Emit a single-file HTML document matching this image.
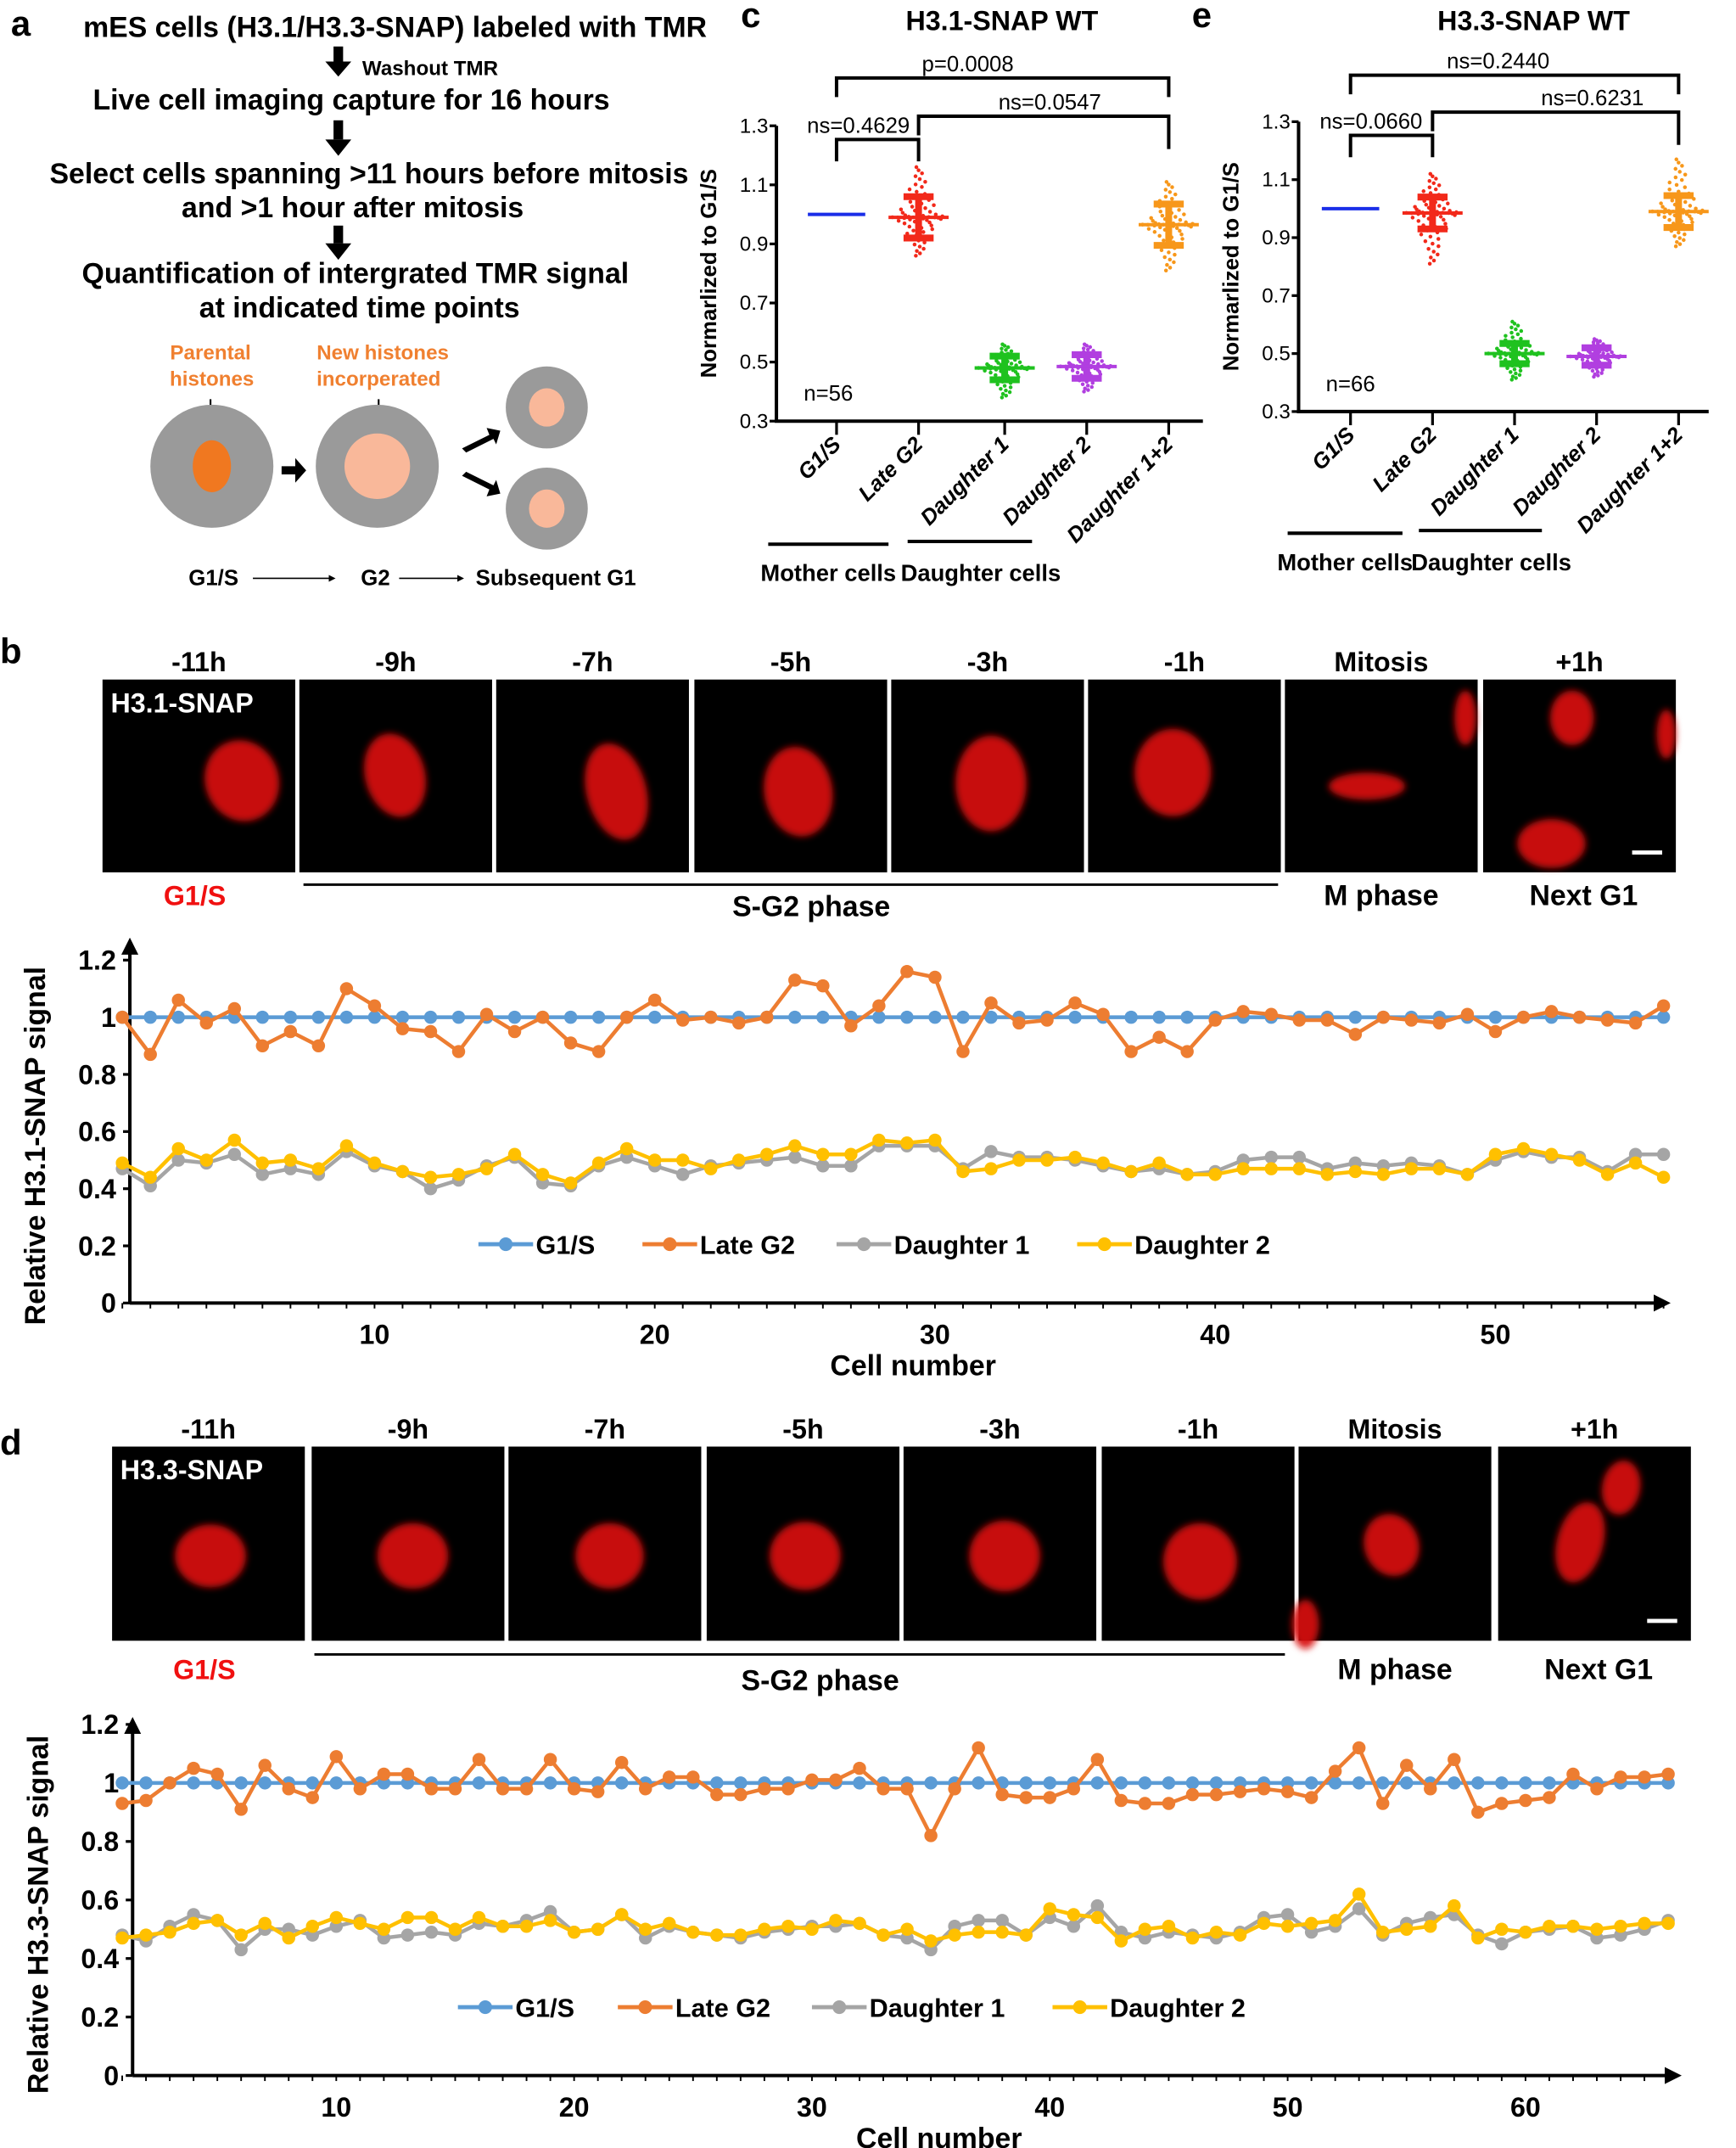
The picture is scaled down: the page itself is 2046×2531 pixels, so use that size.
<!DOCTYPE html>
<html><head><meta charset="utf-8"><style>
html,body{margin:0;padding:0;background:#fff}
svg{display:block;font-family:"Liberation Sans",Arial,sans-serif}
.b{font-weight:bold}
</style></head><body>
<svg id="fig" width="2046" height="2531" viewBox="0 0 1270 1571" preserveAspectRatio="none" xmlns="http://www.w3.org/2000/svg">
<defs>
<filter id="blur" x="-50%" y="-50%" width="200%" height="200%"><feGaussianBlur stdDeviation="2.5"/></filter>
<marker id="arr" viewBox="0 0 10 10" refX="5" refY="5" markerWidth="5" markerHeight="5" orient="auto"><path d="M0,0L10,5L0,10z" fill="#000"/></marker>
</defs>
<g id="panelA">
<text x="8" y="26" font-size="26" class="b">a</text>
<text x="289" y="27" font-size="21" text-anchor="middle" class="b">mES cells (H3.1/H3.3-SNAP) labeled with TMR</text>
<text x="265" y="55" font-size="15" class="b">Washout TMR</text>
<text x="257" y="80" font-size="21" text-anchor="middle" class="b">Live cell imaging capture for 16 hours</text>
<text x="270" y="134" font-size="21" text-anchor="middle" class="b">Select cells spanning &gt;11 hours before mitosis</text>
<text x="258" y="159" font-size="21" text-anchor="middle" class="b">and &gt;1 hour after mitosis</text>
<text x="260" y="207" font-size="21" text-anchor="middle" class="b">Quantification of intergrated TMR signal</text>
<text x="263" y="232" font-size="21" text-anchor="middle" class="b">at indicated time points</text>
<g fill="#000">
<rect x="244" y="34" width="7" height="11"/><path d="M238,45h19l-9.5,11z"/>
<rect x="244" y="88" width="7" height="14"/><path d="M238,102h19l-9.5,12z"/>
<rect x="244" y="165" width="7" height="13"/><path d="M238,178h19l-9.5,12z"/>
</g>
<text x="154" y="263" font-size="15" fill="#f08030" text-anchor="middle" class="b">Parental</text>
<text x="155" y="282" font-size="15" fill="#f08030" text-anchor="middle" class="b">histones</text>
<text x="280" y="263" font-size="15" fill="#f08030" text-anchor="middle" class="b">New histones</text>
<text x="277" y="282" font-size="15" fill="#f08030" text-anchor="middle" class="b">incorperated</text>
<path d="M154,292v16M277,292v16" stroke="#000" stroke-width="1.3"/>
<path d="M150,304l4,6l4,-6M273,304l4,6l4,-6" stroke="#000" fill="none" stroke-width="1.3"/>
<circle cx="155" cy="341" r="45" fill="#9a9a9a"/><ellipse cx="155" cy="341" rx="14" ry="19" fill="#f07820"/>
<circle cx="276" cy="341" r="45" fill="#9a9a9a"/><ellipse cx="276" cy="341" rx="24" ry="24" fill="#f9b89a"/>
<circle cx="400" cy="298" r="30" fill="#9a9a9a"/><ellipse cx="400" cy="298" rx="13" ry="14" fill="#f9b89a"/>
<circle cx="400" cy="372" r="30" fill="#9a9a9a"/><ellipse cx="400" cy="372" rx="13" ry="14" fill="#f9b89a"/>
<path d="M206,341h10v-6l8,9l-8,9v-6h-10z" fill="#000"/>
<path d="M338,328l20,-10l-2,-5l10,2l-3,10l-2,-4l-20,10z" fill="#000"/>
<path d="M338,348l20,10l-2,5l10,-2l-3,-10l-2,4l-20,-10z" fill="#000"/>
<text x="138" y="428" font-size="16" class="b">G1/S</text>
<path d="M185,423h58" stroke="#000" marker-end="url(#arr)"/>
<text x="264" y="428" font-size="16" class="b">G2</text>
<path d="M292,423h45" stroke="#000" marker-end="url(#arr)"/>
<text x="348" y="428" font-size="16" class="b">Subsequent G1</text>
</g>
<g id="panelC"></g>
<g id="panelE"></g>
<g id="imgB"></g>
<g id="imgD"></g>
<g id="chartB"></g>
<g id="chartD"></g>
</svg>
<script>
// ---------- data ----------
const scatterCats = ["G1/S","Late G2","Daughter 1","Daughter 2","Daughter 1+2"];
const cMeans = [1.0, 0.99, 0.48, 0.485, 0.965];
const cSD = [0, 0.07, 0.04, 0.04, 0.07];
const cMin = [1.0, 0.86, 0.38, 0.40, 0.81];
const cMax = [1.0, 1.16, 0.56, 0.56, 1.11];
const eMeans = [1.0, 0.985, 0.50, 0.49, 0.99];
const eSD = [0, 0.055, 0.035, 0.03, 0.055];
const eMin = [1.0, 0.81, 0.41, 0.42, 0.87];
const eMax = [1.0, 1.12, 0.61, 0.55, 1.17];
const scatterTicks = [0.3,0.5,0.7,0.9,1.1,1.3];

const bG1S = [1,1,1,1,1,1,1,1,1,1,1,1,1,1,1,1,1,1,1,1,1,1,1,1,1,1,1,1,1,1,1,1,1,1,1,1,1,1,1,1,1,1,1,1,1,1,1,1,1,1,1,1,1,1,1,1];
const bLateG2 = [1.0,0.87,1.06,0.98,1.03,0.90,0.95,0.90,1.10,1.04,0.96,0.95,0.88,1.01,0.95,1.00,0.91,0.88,1.00,1.06,0.99,1.00,0.98,1.00,1.13,1.11,0.97,1.04,1.16,1.14,0.88,1.05,0.98,0.99,1.05,1.01,0.88,0.93,0.88,0.99,1.02,1.01,0.99,0.99,0.94,1.00,0.99,0.98,1.01,0.95,1.00,1.02,1.00,0.99,0.98,1.04];
const bD1 = [0.47,0.41,0.50,0.49,0.52,0.45,0.47,0.45,0.53,0.48,0.46,0.40,0.43,0.48,0.51,0.42,0.41,0.48,0.51,0.48,0.45,0.48,0.49,0.50,0.51,0.48,0.48,0.55,0.55,0.55,0.47,0.53,0.51,0.51,0.50,0.48,0.46,0.47,0.45,0.46,0.50,0.51,0.51,0.47,0.49,0.48,0.49,0.48,0.45,0.50,0.53,0.51,0.51,0.46,0.52,0.52];
const bD2 = [0.49,0.44,0.54,0.50,0.57,0.49,0.50,0.47,0.55,0.49,0.46,0.44,0.45,0.47,0.52,0.45,0.42,0.49,0.54,0.50,0.50,0.47,0.50,0.52,0.55,0.52,0.52,0.57,0.56,0.57,0.46,0.47,0.50,0.50,0.51,0.49,0.46,0.49,0.45,0.45,0.47,0.47,0.47,0.45,0.46,0.45,0.47,0.47,0.45,0.52,0.54,0.52,0.50,0.45,0.49,0.44];
const dG1S = new Array(66).fill(1);
const dLateG2 = [0.93,0.94,1.00,1.05,1.03,0.91,1.06,0.98,0.95,1.09,0.98,1.03,1.03,0.98,0.98,1.08,0.98,0.98,1.08,0.98,0.97,1.07,0.98,1.02,1.02,0.96,0.96,0.98,0.98,1.01,1.01,1.05,0.98,0.98,0.82,0.98,1.12,0.96,0.95,0.95,0.98,1.08,0.94,0.93,0.93,0.96,0.96,0.97,0.98,0.97,0.95,1.04,1.12,0.93,1.06,0.98,1.08,0.90,0.93,0.94,0.95,1.03,0.98,1.02,1.02,1.03];
const dD1 = [0.48,0.46,0.51,0.55,0.53,0.43,0.50,0.50,0.48,0.51,0.53,0.47,0.48,0.49,0.48,0.52,0.51,0.53,0.56,0.49,0.50,0.55,0.47,0.51,0.49,0.48,0.47,0.49,0.50,0.51,0.51,0.52,0.48,0.47,0.43,0.51,0.53,0.53,0.48,0.54,0.51,0.58,0.49,0.47,0.49,0.48,0.47,0.49,0.54,0.55,0.49,0.51,0.57,0.48,0.52,0.54,0.55,0.48,0.45,0.49,0.50,0.51,0.47,0.48,0.50,0.53];
const dD2 = [0.47,0.48,0.49,0.52,0.53,0.48,0.52,0.47,0.51,0.54,0.52,0.50,0.54,0.54,0.50,0.54,0.51,0.51,0.53,0.49,0.50,0.55,0.50,0.52,0.49,0.48,0.48,0.50,0.51,0.50,0.53,0.52,0.48,0.50,0.46,0.48,0.49,0.49,0.48,0.57,0.55,0.54,0.46,0.50,0.51,0.47,0.49,0.48,0.52,0.51,0.52,0.53,0.62,0.49,0.50,0.51,0.58,0.47,0.50,0.49,0.51,0.51,0.50,0.51,0.52,0.52];
const lineTicks = [0,0.2,0.4,0.6,0.8,1,1.2];

const NS="http://www.w3.org/2000/svg";
function mk(parent,tag,attrs,txt){const e=document.createElementNS(NS,tag);for(const k in attrs)e.setAttribute(k,attrs[k]);if(txt!==undefined)e.textContent=txt;parent.appendChild(e);return e;}

// ---------- scatter panels ----------
const scColors=["#1a2ee8","#f2291a","#1fc21f","#b13fe0","#f7971a"];
function scatter(gid,o,means,sd,mn,mx,letter,title,pvals,nlab){
  const g=document.getElementById(gid);
  const y=v=>o.y0-(v-0.3)/1.0*(o.y0-o.y1);
  const x=i=>o.xs[i];
  let t;
  t=mk(g,'text',{x:o.lx,y:o.ty-2,'font-size':26,'font-weight':'bold'},letter);
  
  t=mk(g,'text',{x:o.tx,y:o.ty,'font-size':20,'font-weight':'bold','text-anchor':'middle'},title);
  
  mk(g,'path',{d:`M${o.ax},${y(1.3)}V${o.y0}H${o.xend}`,stroke:'#000','stroke-width':2.5,fill:'none'});
  scatterTicks.forEach(v=>{
    mk(g,'path',{d:`M${o.ax-5},${y(v)}H${o.ax}`,stroke:'#000','stroke-width':2});
    t=mk(g,'text',{x:o.ax-6,y:y(v)+5,'font-size':15,'text-anchor':'end'},v.toFixed(1));
    
  });
  t=mk(g,'text',{x:0,y:0,'font-size':16,'font-weight':'bold','text-anchor':'middle',transform:`translate(${o.ax-44},${y(0.8)}) rotate(-90)`},'Normarlized to G1/S');
  
  scatterCats.forEach((c,i)=>{
    mk(g,'path',{d:`M${x(i)},${o.y0}v10`,stroke:'#000','stroke-width':2});
    t=mk(g,'text',{x:0,y:0,'font-size':16,'font-weight':'bold','font-style':'italic','text-anchor':'end',transform:`translate(${x(i)+4},${o.y0+18}) rotate(-45)`},c);
    
    const col=scColors[i];
    const grp=mk(g,'g',{});
    
    
    if(sd[i]===0){mk(grp,'path',{d:`M${x(i)-21},${y(means[i])}H${x(i)+21}`,stroke:col,'stroke-width':2.5});return;}
    const n=64;
    for(let k=0;k<n;k++){
      const f=k/(n-1);
      const z=(f-0.5)*2;
      const v=means[i]+ (z<0? z*(means[i]-mn[i]) : z*(mx[i]-means[i]))*Math.abs(z);
      const w=(1-Math.abs(z))*18+2;
      const dx=((k*7)%11-5)/5*w;
      mk(grp,'circle',{cx:x(i)+dx,cy:y(v),r:1.4,fill:col});
    }
    mk(grp,'path',{d:`M${x(i)},${y(means[i]+sd[i])}V${y(means[i]-sd[i])}M${x(i)-11},${y(means[i]+sd[i])}h22M${x(i)-11},${y(means[i]-sd[i])}h22`,stroke:col,'stroke-width':5});
    mk(grp,'path',{d:`M${x(i)-22},${y(means[i])}h44`,stroke:col,'stroke-width':2.5});
  });
  const br=(i1,i2,ya,yb1,yb2,lab,lx)=>{
    mk(g,'path',{d:`M${x(i1)},${yb1}V${ya}H${x(i2)}V${yb2}`,stroke:'#000','stroke-width':2.5,fill:'none'});
    t=mk(g,'text',{x:lx,y:ya-5,'font-size':16,'text-anchor':'middle'},lab);
    
  };
  br(0,1,o.b1,o.b1+16,o.b1+16,pvals[0],o.p0x);
  br(1,4,o.b2,o.b2+14,o.b2+24,pvals[1],o.p1x);
  br(0,4,o.b3,o.b3+14,o.b3+14,pvals[2],o.p2x);
  t=mk(g,'text',{x:o.ax+20,y:o.y0-15,'font-size':16},nlab);
  
  mk(g,'path',{d:`M${o.m1[0]},${o.gy}H${o.m1[1]}M${o.m2[0]},${o.gy-2}H${o.m2[1]}`,stroke:'#000','stroke-width':2.5});
  t=mk(g,'text',{x:(o.m1[0]+o.m1[1])/2,y:o.gy+27,'font-size':17,'font-weight':'bold','text-anchor':'middle'},'Mother cells');
  
  t=mk(g,'text',{x:(o.m2[0]+o.m2[1])/2+8,y:o.gy+27,'font-size':17,'font-weight':'bold','text-anchor':'middle'},'Daughter cells');
  
}
scatter('panelC',{ax:568,y0:308,y1:92,xend:880,xs:[612,672,735,795,855],lx:542,tx:733,ty:22,b1:102,b2:85,b3:57,p0x:628,p1x:768,p2x:708,m1:[562,650],m2:[664,755],gy:398},cMeans,cSD,cMin,cMax,'c','H3.1-SNAP WT',['ns=0.4629','ns=0.0547','p=0.0008'],'n=56');
scatter('panelE',{ax:950,y0:301,y1:89,xend:1250,xs:[988,1048,1108,1168,1228],lx:872,tx:1122,ty:22,b1:99,b2:82,b3:55,p0x:1003,p1x:1165,p2x:1096,m1:[942,1026],m2:[1038,1128],gy:390},eMeans,eSD,eMin,eMax,'e','H3.3-SNAP WT',['ns=0.0660','ns=0.6231','ns=0.2440'],'n=66');

// ---------- image strips ----------
const timeLabels=["-11h","-9h","-7h","-5h","-3h","-1h","Mitosis","+1h"];
function strip(gid,xs,y0,h,w,lab,lp,blobs,capY,lineY,lineX){
  const g=document.getElementById(gid);let t;
  mk(g,'text',{x:lp.x,y:lp.y,'font-size':26,'font-weight':'bold'},lp.l);
  xs.forEach((x,i)=>{
    const fr=mk(g,'g',{});
    
    
    mk(fr,'rect',{x:x,y:y0,width:w,height:h,fill:'#000'});
    blobs[i].forEach(b=>mk(fr,'ellipse',{cx:x+b[0],cy:y0+b[1],rx:b[2],ry:b[3],fill:'#d80c08','fill-opacity':0.92,filter:'url(#blur)',transform:`rotate(${b[4]||0},${x+b[0]},${y0+b[1]})`}));
    t=mk(g,'text',{x:x+w/2,y:y0-6,'font-size':20,'font-weight':'bold','text-anchor':'middle'},timeLabels[i]);
    
  });
  t=mk(g,'text',{x:xs[0]+6,y:y0+24,'font-size':20,'font-weight':'bold',fill:'#fff'},lab);
  
  mk(g,'rect',{x:xs[7]+w-32,y:y0+h-16,width:22,height:3,fill:'#fff'});
  mk(g,'path',{d:`M${lineX[0]},${lineY}H${lineX[1]}`,stroke:'#000','stroke-width':1.8});
  t=mk(g,'text',{x:xs[0]+w/2-3,y:capY,'font-size':20,'font-weight':'bold',fill:'#f01010','text-anchor':'middle'},'G1/S');
  
  t=mk(g,'text',{x:(lineX[0]+lineX[1])/2+15,y:capY+8,'font-size':21,'font-weight':'bold','text-anchor':'middle'},'S-G2 phase');
  
  t=mk(g,'text',{x:xs[6]+w/2,y:capY,'font-size':21,'font-weight':'bold','text-anchor':'middle'},'M phase');
  
  t=mk(g,'text',{x:xs[7]+w/2+3,y:capY,'font-size':21,'font-weight':'bold','text-anchor':'middle'},'Next G1');
  
}
strip('imgB',[75,219,363,508,652,796,940,1085],497,141,141,'H3.1-SNAP',{x:0,y:485,l:'b'},
 [[[102,74,27,30,-20]],[[70,70,22,31,-15]],[[88,82,22,36,-15]],[[76,82,25,33,-10]],[[73,76,26,35,0]],[[62,68,28,32,0]],[[60,78,28,10,0],[132,28,8,20]],[[65,28,16,20],[50,120,25,18],[134,40,7,18]]],
 662,647,[222,935]);
strip('imgD',[82,228,372,517,661,806,950,1096],1058,142,141,'H3.3-SNAP',{x:0,y:1064,l:'d'},
 [[[72,80,26,23]],[[74,80,26,24]],[[74,80,25,24]],[[72,80,26,25]],[[74,80,26,26]],[[72,84,27,28]],[[68,72,20,23,-20],[5,130,10,18]],[[60,70,17,30,15],[90,30,14,20,10]]],
 1228,1210,[230,940]);

// ---------- line charts ----------
const lineColors={g:"#5b9bd5",o:"#ed7d31",d1:"#a5a5a5",d2:"#ffc000"};
function lineChart(gid,o,series,n,xticks,ylabel){
  const g=document.getElementById(gid);let t;
  const X=i=>o.x0+o.dx*i, Y=v=>o.yb-v*o.sy;
  mk(g,'path',{d:`M${o.ax},${o.yb}V${o.ytop}`,stroke:'#000','stroke-width':2.5,'marker-end':'url(#arr)'});
  mk(g,'path',{d:`M${o.ax},${o.yb}H${o.xend}`,stroke:'#000','stroke-width':2.5,'marker-end':'url(#arr)'});
  lineTicks.forEach(v=>{
    mk(g,'path',{d:`M${o.ax-5},${Y(v)}H${o.ax}`,stroke:'#000','stroke-width':2});
    t=mk(g,'text',{x:o.ax-10,y:Y(v)+7,'font-size':20,'font-weight':'bold','text-anchor':'end'},String(v));
    
  });
  for(let i=1;i<=n;i++) mk(g,'path',{d:`M${X(i)},${o.yb}v4`,stroke:'#000','stroke-width':1.2});
  xticks.forEach(v=>{
    t=mk(g,'text',{x:X(v),y:o.yb+30,'font-size':20,'font-weight':'bold','text-anchor':'middle'},String(v));
    
  });
  t=mk(g,'text',{x:o.cnx,y:o.yb+53,'font-size':21,'font-weight':'bold','text-anchor':'middle'},'Cell number');
  
  t=mk(g,'text',{x:0,y:0,'font-size':21,'font-weight':'bold','text-anchor':'middle',transform:`translate(${o.ax-62},${Y(0.55)}) rotate(-90)`},ylabel);
  
  series.forEach(s=>{
    const sg=mk(g,'g',{});
    
    
    mk(sg,'path',{d:s.v.map((v,i)=>(i?'L':'M')+X(i+1)+','+Y(v)).join(''),stroke:s.c,'stroke-width':2.8,fill:'none'});
    s.v.forEach((v,i)=>mk(sg,'circle',{cx:X(i+1),cy:Y(v),r:4.8,fill:s.c}));
  });
  series.forEach((s,k)=>{
    const lx=o.lgx[k];
    const lg=mk(g,'g',{});
    
    
    mk(lg,'path',{d:`M${lx},${o.lgy}h40`,stroke:s.c,'stroke-width':3});
    mk(lg,'circle',{cx:lx+20,cy:o.lgy,r:5,fill:s.c});
    mk(lg,'text',{x:lx+42,y:o.lgy+7,'font-size':19,'font-weight':'bold'},s.name);
  });
}
lineChart('chartB',{ax:95,yb:953,sy:209,ytop:692,xend:1216,x0:69,dx:20.5,cnx:668,lgx:[350,470,612,788],lgy:910},
 [{name:'G1/S',v:bG1S,c:lineColors.g},{name:'Late G2',v:bLateG2,c:lineColors.o},{name:'Daughter 1',v:bD1,c:lineColors.d1},{name:'Daughter 2',v:bD2,c:lineColors.d2}],
 56,[10,20,30,40,50],'Relative H3.1-SNAP signal');
lineChart('chartD',{ax:97,yb:1518,sy:214,ytop:1262,xend:1224,x0:72,dx:17.4,cnx:687,lgx:[335,452,594,770],lgy:1468},
 [{name:'G1/S',v:dG1S,c:lineColors.g},{name:'Late G2',v:dLateG2,c:lineColors.o},{name:'Daughter 1',v:dD1,c:lineColors.d1},{name:'Daughter 2',v:dD2,c:lineColors.d2}],
 66,[10,20,30,40,50,60],'Relative H3.3-SNAP signal');
</script>
</body></html>
